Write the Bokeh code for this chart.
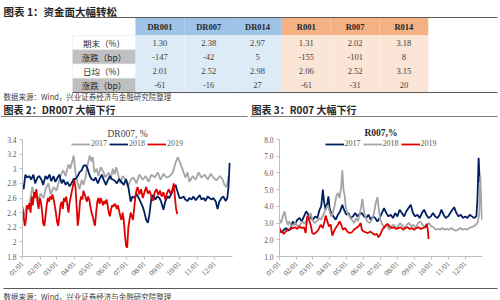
import math
from bokeh.plotting import figure
from bokeh.layouts import column, row
from bokeh.models import (Range1d, FixedTicker, NumeralTickFormatter, Legend, LegendItem)
from bokeh.embed import file_html
from bokeh.resources import INLINE
from bokeh.core.properties import value

CJK = "Noto Sans CJK SC"
SERIF = "Liberation Serif"

# ---------------- table data ----------------
col_names = ["DR001", "DR007", "DR014", "R001", "R007", "R014"]
row_labels = ["期末（%）", "涨跌（bp）", "日均（%）", "涨跌（bp）"]
period_end = ["1.30", "2.38", "2.97", "1.31", "2.02", "3.18"]
end_change = ["-147", "-42", "5", "-155", "-101", "8"]
daily_avg = ["2.01", "2.52", "2.98", "2.06", "2.52", "3.15"]
avg_change = ["-61", "-16", "27", "-61", "-31", "20"]

title1 = "图表 1：资金面大幅转松"
title2 = "图表 2：DR007 大幅下行"
title3 = "图表 3：R007 大幅下行"
source = "数据来源：Wind，兴业证券经济与金融研究院整理"

# ---------------- axis ticks ----------------
month_days = [0, 31, 59, 90, 120, 151, 181, 212, 243, 273, 304, 334]
month_labels = ["01/01", "02/01", "03/01", "04/01", "05/01", "06/01",
                "07/01", "08/01", "09/01", "10/01", "11/01", "12/01"]
years = ["2017", "2018", "2019"]

# ---------------- DR007 series (day of year, %) ----------------
dr007_2017 = [(0,2.40),(3,2.35),(7,2.50),(10,2.45),(14,2.60),(17,2.75),(21,2.62),(24,2.70),(28,2.55),(31,2.66),
              (37,2.60),(40,2.72),(45,2.80),(49,2.65),(54,2.75),(59,2.70),(63,2.82),(66,2.90),(71,2.98),(75,2.90),
              (80,3.06),(83,3.00),(87,3.12),(89,3.18),(92,2.95),(96,2.80),(99,2.72),(103,2.85),(106,2.78),(110,2.90),
              (113,3.05),(117,3.18),(120,3.10),(122,3.16),(125,2.95),(129,3.00),(132,2.90),(136,3.02),(141,2.95),
              (144,2.88),(150,2.95),(153,2.85),(157,3.00),(160,2.92),(163,3.02),(167,2.90),(170,2.80),(174,2.90),
              (179,2.85),(183,2.75),(188,2.85),(193,2.88),(198,2.80),(203,2.92),(209,2.85),(214,2.90),(219,2.82),
              (224,2.92),(230,2.88),(235,2.95),(240,2.85),(245,2.93),(250,2.88),(256,2.90),(261,2.95),(266,3.08),
              (270,3.16),(273,3.10),(277,3.02),(280,2.95),(283,2.88),(287,2.95),(290,2.82),(296,2.90),(301,2.85),
              (306,2.95),(311,2.88),(317,2.92),(322,2.85),(327,2.93),(332,2.88),(337,2.84),(343,2.90),(348,2.85),
              (351,2.78),(355,2.75),(358,2.90)]
dr007_2018 = [(0,2.78),(2,2.72),(5,2.92),(8,2.88),(12,2.90),(15,2.85),(19,2.92),(22,2.80),(26,2.88),(29,2.90),
              (33,2.85),(36,2.78),(40,2.90),(43,2.86),(47,2.92),(50,2.83),(54,2.90),(57,2.82),(61,2.88),(64,2.92),
              (68,2.80),(71,2.85),(75,2.78),(78,2.82),(82,2.76),(85,2.80),(89,2.86),(92,2.86),(96,2.90),(99,2.95),
              (103,2.98),(106,3.04),(110,3.05),(113,3.00),(117,2.90),(120,2.86),(124,2.84),(127,2.88),(131,2.80),
              (134,2.86),(138,2.92),(141,2.85),(145,2.78),(148,2.84),(152,2.90),(155,2.86),(160,2.84),(164,2.80),
              (168,2.86),(172,2.82),(176,2.78),(180,2.86),(184,2.75),(188,2.55),(191,2.62),(195,2.60),(198,2.66),
              (202,2.60),(205,2.55),(209,2.48),(212,2.40),(215,2.30),(218,2.26),(221,2.40),(224,2.60),(227,2.64),
              (231,2.58),(234,2.62),(238,2.60),(241,2.55),(245,2.44),(248,2.55),(252,2.62),(255,2.60),(259,2.66),
              (262,2.72),(266,2.78),(269,2.70),(273,2.60),(276,2.60),(280,2.62),(283,2.58),(287,2.56),(290,2.60),
              (294,2.58),(297,2.62),(301,2.57),(304,2.60),(308,2.64),(311,2.58),(315,2.60),(318,2.56),(322,2.62),
              (325,2.60),(329,2.58),(332,2.60),(336,2.55),(339,2.45),(342,2.55),(346,2.60),(349,2.62),(353,2.56),
              (356,2.60),(358,2.75),(360,3.08)]
dr007_2019 = [(0,2.48),(2,2.35),(4,2.22),(6,2.30),(8,2.50),(10,2.45),(12,2.53),(14,2.40),(16,2.62),(18,2.50),
              (20,2.68),(22,2.60),(24,2.72),(26,2.55),(28,2.45),(30,2.60),(32,2.55),(34,2.42),(36,2.25),(38,2.22),
              (40,2.35),(42,2.50),(44,2.60),(46,2.55),(48,2.62),(50,2.58),(52,2.65),(55,2.55),(58,2.40),(60,2.28),
              (62,2.22),(64,2.35),(66,2.50),(68,2.55),(70,2.45),(72,2.60),(74,2.55),(76,2.62),(78,2.50),(80,2.40),
              (82,2.55),(84,2.62),(86,2.70),(88,2.78),(90,2.85),(92,2.75),(94,2.50),(96,2.22),(98,2.35),(100,2.55),
              (102,2.62),(104,2.58),(106,2.70),(108,2.65),(110,2.60),(112,2.55),(114,2.62),(116,2.58),(118,2.48),
              (120,2.40),(122,2.35),(124,2.28),(126,2.22),(128,2.40),(130,2.55),(132,2.60),(134,2.52),(136,2.60),
              (138,2.55),(140,2.50),(142,2.56),(144,2.52),(146,2.58),(148,2.50),(150,2.40),(152,2.35),(154,2.45),
              (156,2.50),(158,2.48),(160,2.52),(162,2.50),(164,2.45),(166,2.50),(168,2.42),(170,2.35),(172,2.30),
              (174,2.40),(176,2.30),(178,2.10),(180,1.95),(182,1.92),(184,2.20),(186,2.30),(188,2.40),(190,2.35),
              (192,2.30),(194,2.45),(196,2.60),(198,2.70),(200,2.75),(203,2.65),(206,2.72),(209,2.60),(212,2.68),
              (215,2.75),(218,2.66),(221,2.70),(224,2.62),(227,2.56),(230,2.68),(233,2.72),(236,2.64),(239,2.70),
              (242,2.62),(245,2.68),(248,2.58),(251,2.66),(254,2.72),(257,2.66),(260,2.70),(263,2.80),(265,2.60),
              (267,2.45),(269,2.38)]

# ---------------- R007 series (day of year, %) ----------------
r007_2017 = [(0,2.50),(4,2.45),(8,2.60),(12,2.70),(16,2.55),(20,2.65),(24,3.10),(28,2.90),(32,3.20),(36,3.30),
             (40,3.10),(44,3.40),(48,3.70),(52,3.50),(56,3.30),(60,3.20),(64,3.40),(68,3.30),(72,3.80),(75,4.00),
             (78,5.00),(80,4.30),(83,3.80),(86,4.20),(88,4.60),(90,3.90),(93,3.60),(97,3.40),(101,3.20),(105,3.50),
             (109,3.70),(113,4.10),(116,3.80),(120,3.50),(124,3.60),(128,3.30),(132,3.40),(136,3.60),(140,3.40),
             (144,3.55),(148,3.60),(152,3.40),(156,3.30),(160,3.50),(164,3.20),(168,3.40),(172,3.30),(176,3.10),
             (180,3.30),(184,3.60),(188,3.90),(192,3.60),(196,3.40),(200,3.50),(204,3.30),(208,3.60),(212,3.40),
             (216,3.80),(220,3.60),(224,3.40),(228,3.70),(232,3.90),(236,4.10),(240,3.60),(244,3.40),(248,3.50),
             (252,3.30),(256,3.60),(260,3.80),(264,3.50),(268,3.30),(272,3.40),(276,3.60),(280,3.40),(284,3.30),
             (288,3.50),(291,3.80),(295,3.50),(299,3.30),(303,3.40),(307,3.60),(311,3.80),(314,3.95),(318,3.60),
             (322,3.40),(326,3.50),(330,3.30),(334,3.40),(338,3.30),(342,3.50),(346,3.40),(350,3.30),(354,3.40),
             (356,4.50),(358,6.90),(360,5.50),(362,5.40)]
r007_2018 = [(0,3.20),(3,3.00),(6,3.40),(9,3.70),(12,3.20),(15,2.90),(18,3.10),(21,2.80),(25,2.90),(29,3.00),
             (33,2.80),(37,2.90),(41,3.10),(45,2.95),(49,3.20),(53,3.40),(56,3.60),(59,3.20),(63,3.00),(67,3.10),
             (71,3.30),(75,3.20),(79,3.50),(83,3.80),(87,4.05),(90,3.70),(93,3.40),(96,3.60),(99,4.00),(102,4.60),
             (105,4.80),(108,4.50),(111,5.20),(113,6.15),(115,5.00),(117,4.70),(119,4.00),(122,3.60),(126,3.40),
             (130,3.20),(134,3.00),(138,3.30),(141,3.10),(144,3.50),(147,4.00),(149,4.45),(151,3.90),(154,3.40),
             (158,3.10),(162,3.00),(166,3.20),(170,3.60),(173,4.20),(176,4.55),(178,4.00),(181,3.20),(185,2.90),
             (189,2.70),(193,2.90),(197,2.60),(201,2.80),(205,2.90),(209,2.70),(213,2.80),(217,3.00),(221,2.85),
             (225,2.70),(229,2.90),(233,3.00),(237,2.80),(241,2.90),(245,2.70),(249,3.00),(253,3.10),(257,2.90),
             (261,2.80),(265,2.90),(269,3.00),(273,2.80),(277,2.75),(281,2.60),(285,2.65),(289,2.60),(293,2.70),
             (297,2.60),(301,2.65),(305,2.60),(309,2.70),(313,2.60),(317,2.55),(321,2.60),(325,2.70),(329,2.60),
             (333,2.65),(337,2.60),(341,2.70),(345,2.75),(349,2.80),(353,2.90),(356,3.00),(359,3.50),(361,5.80),
             (363,4.00),(364,3.20)]
r007_2019 = [(0,2.70),(2,2.55),(5,2.45),(8,2.35),(11,2.50),(15,2.60),(20,2.65),(24,2.70),(28,2.75),(32,2.65),
             (36,2.80),(40,2.70),(44,2.75),(47,2.40),(50,3.45),(53,3.20),(56,2.90),(59,2.40),(62,2.35),(66,2.45),
             (70,2.60),(74,2.90),(78,2.70),(81,3.10),(83,3.45),(86,3.10),(89,2.80),(92,2.90),(95,2.25),(98,2.50),
             (101,2.70),(105,2.90),(108,3.10),(111,2.90),(114,2.60),(118,2.70),(122,2.50),(126,2.40),(130,2.45),
             (134,2.60),(138,2.70),(142,2.80),(146,3.00),(148,2.60),(151,2.50),(155,2.45),(159,2.40),(163,2.50),
             (167,2.40),(171,2.30),(175,2.35),(178,2.15),(181,2.30),(185,2.60),(189,2.80),(194,2.95),(198,2.80),
             (202,2.70),(206,2.75),(210,2.65),(214,2.70),(218,2.75),(222,2.60),(226,2.70),(230,2.75),(234,2.65),
             (238,2.70),(242,2.60),(246,2.70),(250,2.75),(254,2.65),(258,2.70),(262,2.75),(265,2.95),(267,2.50),
             (268,2.05)]

# ---------------- styles ----------------
GRAY = "#A5A5A5"
NAVY = "#002060"
RED = "#E00000"
TXT = "#404040"
AX = "#BFBFBF"

# ---------------- top panel (titles + table) ----------------
top = figure(width=500, height=120, x_range=Range1d(0, 500), y_range=Range1d(120, 0),
             x_axis_type=None, y_axis_type=None, output_backend="svg", toolbar_location=None,
             min_border=0)
top.grid.visible = False
top.outline_line_color = None

top.text(x=[3], y=[11], text=[title1], text_font=value(CJK), text_font_size="10.5px",
         text_font_style="bold", text_baseline="middle", text_color="#262626")

lab_x0, lab_x1 = 72, 135
cw = 48.8
hy0, hy1 = 17, 35
rh = (92 - 35) / 4.0
ncol = len(col_names)
cols_left = [lab_x1 + j * cw for j in range(ncol)]
cols_right = [l + cw for l in cols_left]
cols_mid = [l + cw / 2 for l in cols_left]
is_dr = [n.startswith("DR") for n in col_names]

top.quad(left=cols_left, right=cols_right, top=[hy0] * ncol, bottom=[hy1] * ncol,
         fill_color=["#9DC3E6" if d else "#F4B183" for d in is_dr], line_color=None)
top.quad(left=cols_left, right=cols_right, top=[hy1] * ncol, bottom=[92] * ncol,
         fill_color=["#DDEBF7" if d else "#FBE5D6" for d in is_dr], line_color=None)
top.quad(left=[lab_x0] * 4, right=[lab_x1] * 4,
         top=[hy1 + i * rh for i in range(4)], bottom=[hy1 + (i + 1) * rh for i in range(4)],
         fill_color=["#FFFFFF", "#BFBFBF", "#FFFFFF", "#BFBFBF"], line_color="#E7E6E6", line_width=0.5)

top.segment(x0=[lab_x0, lab_x0], y0=[hy0, 92], x1=[497, 497], y1=[hy0, 92],
            line_color="#595959", line_width=1)

top.text(x=cols_mid, y=[(hy0 + hy1) / 2 + 0.5] * ncol, text=col_names, text_font=value(SERIF),
         text_font_size="8.5px", text_font_style="bold", text_align="center",
         text_baseline="middle", text_color="#262626")
row_vals = [period_end, end_change, daily_avg, avg_change]
for i, vals in enumerate(row_vals):
    yc = hy1 + (i + 0.5) * rh
    top.text(x=cols_mid, y=[yc] * ncol, text=vals, text_font=value(SERIF), text_font_size="8.5px",
             text_align="center", text_baseline="middle", text_color=TXT)
top.text(x=[(lab_x0 + lab_x1) / 2] * 4, y=[hy1 + (i + 0.5) * rh for i in range(4)], text=row_labels,
         text_font=value(CJK), text_font_size="8.5px", text_align="center", text_baseline="middle",
         text_color="#262626")

top.text(x=[3], y=[96], text=[source], text_font=value(CJK), text_font_size="7.5px",
         text_baseline="middle", text_color=TXT)
top.text(x=[3, 251], y=[109, 109], text=[title2, title3], text_font=value(CJK),
         text_font_size="10px", text_font_style="bold", text_baseline="middle", text_color="#262626")
top.segment(x0=[0, 250], y0=[116, 116], x1=[247, 497], y1=[116, 116], line_color="#7F7F7F", line_width=1)


# ---------------- charts ----------------
def style_chart(p, yticks, yfmt):
    p.grid.visible = False
    p.outline_line_color = None
    p.xaxis.ticker = FixedTicker(ticks=month_days)
    p.xaxis.major_label_overrides = dict(zip(month_days, month_labels))
    p.xaxis.major_label_orientation = math.pi / 4
    p.yaxis.ticker = FixedTicker(ticks=yticks)
    p.yaxis.formatter = NumeralTickFormatter(format=yfmt)
    for ax in (p.xaxis, p.yaxis):
        ax.major_label_text_font = SERIF
        ax.major_label_text_font_size = "7.5px"
        ax.major_label_text_color = "#595959"
        ax.axis_line_color = AX
        ax.major_tick_line_color = AX
        ax.major_tick_out = 3
        ax.major_tick_in = 0
        ax.minor_tick_line_color = None
        ax.major_label_standoff = 3


def add_legend(p, renderers):
    items = [LegendItem(label=y, renderers=[r]) for y, r in zip(years, renderers)]
    leg = Legend(items=items, location="top_center", orientation="horizontal",
                 background_fill_alpha=0, border_line_color=None,
                 label_text_font=SERIF, label_text_font_size="8px", label_text_color="#595959",
                 glyph_width=19, glyph_height=6, label_height=8, label_width=16,
                 label_standoff=1, spacing=2, padding=0, margin=0)
    p.add_layout(leg)


p1 = figure(width=250, height=166, x_range=Range1d(0, 365), y_range=Range1d(1.8, 3.4),
            output_backend="svg", toolbar_location=None,
            min_border_left=22, min_border_right=18, min_border_top=17, min_border_bottom=30)
p1.title.text = "DR007, %"
p1.title.align = "center"
p1.title.text_font = SERIF
p1.title.text_font_size = "9.5px"
p1.title.text_font_style = "normal"
p1.title.text_color = TXT
p1.title.standoff = 1
style_chart(p1, [1.8, 2.0, 2.2, 2.4, 2.6, 2.8, 3.0, 3.2, 3.4], "0.[0]")
rs = []
for series, color in ((dr007_2017, GRAY), (dr007_2018, NAVY), (dr007_2019, RED)):
    xs, ys = zip(*series)
    rs.append(p1.line(list(xs), list(ys), line_color=color, line_width=1.8))
add_legend(p1, rs)

p2 = figure(width=250, height=166, x_range=Range1d(0, 365), y_range=Range1d(1.0, 8.0),
            output_backend="svg", toolbar_location=None,
            min_border_left=29, min_border_right=18, min_border_top=19, min_border_bottom=30)
p2.title.text = "R007,%"
p2.title.align = "center"
p2.title.text_font = SERIF
p2.title.text_font_size = "9.5px"
p2.title.text_font_style = "bold"
p2.title.text_color = "#262626"
p2.title.standoff = 3
style_chart(p2, [1, 2, 3, 4, 5, 6, 7, 8], "0.0")
rs2 = []
for series, color in ((r007_2017, NAVY), (r007_2018, GRAY), (r007_2019, RED)):
    xs, ys = zip(*series)
    rs2.append(p2.line(list(xs), list(ys), line_color=color, line_width=1.8))
add_legend(p2, rs2)

# ---------------- bottom panel ----------------
bot = figure(width=500, height=14, x_range=Range1d(0, 500), y_range=Range1d(14, 0),
             x_axis_type=None, y_axis_type=None, output_backend="svg", toolbar_location=None,
             min_border=0)
bot.grid.visible = False
bot.outline_line_color = None
bot.segment(x0=[3], y0=[2], x1=[497], y1=[2], line_color="#595959", line_width=1)
bot.text(x=[3], y=[9.5], text=[source], text_font=value(CJK), text_font_size="7.5px",
         text_baseline="middle", text_color=TXT)

layout = column(top, row(p1, p2), bot)
open("out.html", "w").write(file_html(layout, INLINE))
